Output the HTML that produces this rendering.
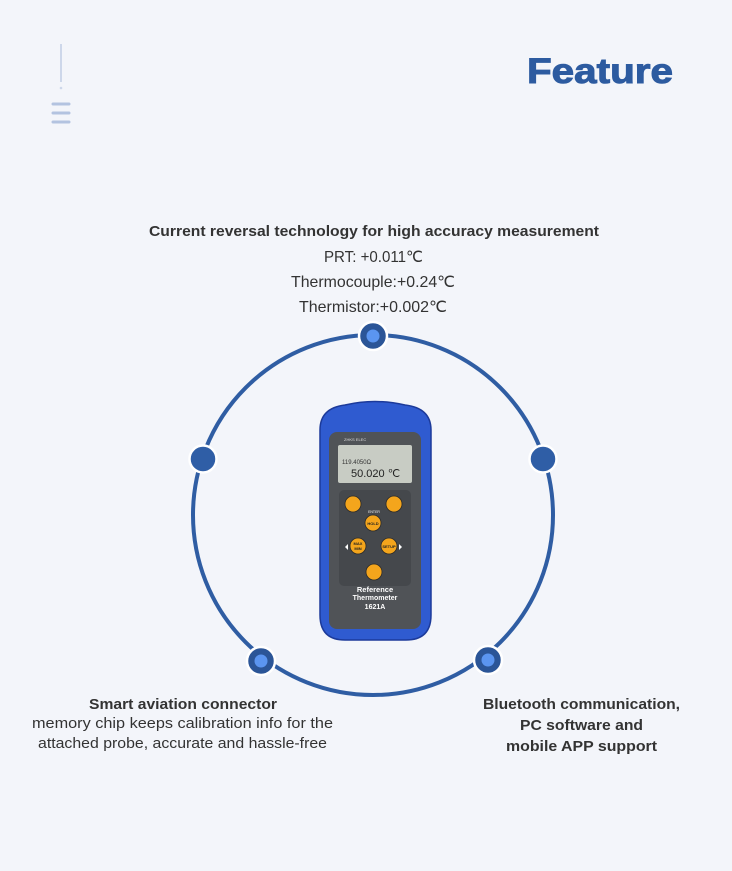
<!DOCTYPE html>
<html><head><meta charset="utf-8"><style>
html,body{margin:0;padding:0;background:#f3f5fa;}
svg{display:block;font-family:"Liberation Sans",Arial,sans-serif;}
</style></head><body>
<svg width="732" height="871" viewBox="0 0 732 871" xmlns="http://www.w3.org/2000/svg">
<rect width="732" height="871" fill="#f3f5fa"/>
<line x1="61" y1="44" x2="61" y2="82" stroke="#cdd7ea" stroke-width="2"/>
<circle cx="61" cy="88" r="1.3" fill="#cdd7ea"/>
<g stroke="#b3c3e0" stroke-width="3" stroke-linecap="round">
<line x1="53" y1="104" x2="69" y2="104"/><line x1="53" y1="113" x2="69" y2="113"/><line x1="53" y1="122" x2="69" y2="122"/></g>
<text x="527" y="83" font-size="35" font-weight="bold" fill="#2d5ba0" textLength="146" lengthAdjust="spacingAndGlyphs" stroke="#2d5ba0" stroke-width="1">Feature</text>
<g fill="#333" lengthAdjust="spacingAndGlyphs">
<text x="149" y="236" font-size="15" font-weight="bold" textLength="450" lengthAdjust="spacingAndGlyphs">Current reversal technology for high accuracy measurement</text>
<text x="324" y="262" font-size="16" textLength="99" lengthAdjust="spacingAndGlyphs">PRT: +0.011℃</text>
<text x="291" y="287" font-size="16" textLength="164" lengthAdjust="spacingAndGlyphs">Thermocouple:+0.24℃</text>
<text x="299" y="312" font-size="16" textLength="148" lengthAdjust="spacingAndGlyphs">Thermistor:+0.002℃</text>
<text x="89" y="709" font-size="15" font-weight="bold" textLength="188" lengthAdjust="spacingAndGlyphs">Smart aviation connector</text>
<text x="32" y="728" font-size="15" textLength="301" lengthAdjust="spacingAndGlyphs">memory chip keeps calibration info for the</text>
<text x="38" y="748" font-size="15" textLength="289" lengthAdjust="spacingAndGlyphs">attached probe, accurate and hassle-free</text>
<text x="483" y="709" font-size="15" font-weight="bold" textLength="197" lengthAdjust="spacingAndGlyphs">Bluetooth communication,</text>
<text x="520" y="730" font-size="15" font-weight="bold" textLength="123" lengthAdjust="spacingAndGlyphs">PC software and</text>
<text x="506" y="751" font-size="15" font-weight="bold" textLength="151" lengthAdjust="spacingAndGlyphs">mobile APP support</text>
</g>
<circle cx="373" cy="515" r="180" fill="none" stroke="#2f5da3" stroke-width="4"/>
<g stroke="#fff" stroke-width="2.5">
<circle cx="373" cy="336" r="14" fill="#2b5597"/>
<circle cx="203" cy="459" r="13.5" fill="#2f5ea6"/>
<circle cx="543" cy="459" r="13.5" fill="#2f5ea6"/>
<circle cx="261" cy="661" r="14" fill="#2b5597"/>
<circle cx="488" cy="660" r="14" fill="#2b5597"/>
</g>
<g fill="#5b95f0">
<circle cx="373" cy="336" r="6.5"/><circle cx="261" cy="661" r="6.5"/><circle cx="488" cy="660" r="6.5"/></g>
<!-- device -->
<path d="M320,430 Q320,408 345,405 Q375,398 405,405 Q431,408 431,430 L431,615 Q431,640 406,640 L345,640 Q320,640 320,615 Z" fill="#2f5bd0" stroke="#1c3a9a" stroke-width="1.5"/>
<rect x="329" y="432" width="92" height="197" rx="8" fill="#505357"/>
<text x="344" y="441" font-size="4" fill="#ddd">ZHKS ELEC</text>
<rect x="338" y="445" width="74" height="38" rx="2" fill="#c8ccc4"/>
<text x="342" y="464" font-size="6" fill="#333">119.4050Ω</text>
<text x="351" y="477" font-size="11" fill="#222">50.020 ℃</text>
<rect x="339" y="490" width="72" height="96" rx="5" fill="#45484c"/>
<g fill="#f4a51c" stroke="#2a2a2a" stroke-width="0.8">
<circle cx="353" cy="504" r="8"/><circle cx="394" cy="504" r="8"/>
<circle cx="373" cy="523" r="8"/><circle cx="358" cy="546" r="8"/><circle cx="389" cy="546" r="8"/>
<circle cx="374" cy="572" r="8"/></g>
<g font-size="4" font-weight="bold" fill="#222" text-anchor="middle">
<text x="373" y="525">HOLD</text><text x="358" y="545">MAX</text><text x="358" y="550">MIN</text><text x="389" y="548">SETUP</text></g>
<text x="374" y="513" font-size="3.5" fill="#eee" text-anchor="middle">ENTER</text>
<g fill="#fff" text-anchor="middle" font-weight="bold">
<text x="375" y="592" font-size="7.5">Reference</text>
<text x="375" y="600" font-size="7">Thermometer</text>
<text x="375" y="609" font-size="7">1621A</text></g>
<polygon points="348,544 348,550 345,547" fill="#fff"/><polygon points="399,544 399,550 402,547" fill="#fff"/>
</svg>
</body></html>
